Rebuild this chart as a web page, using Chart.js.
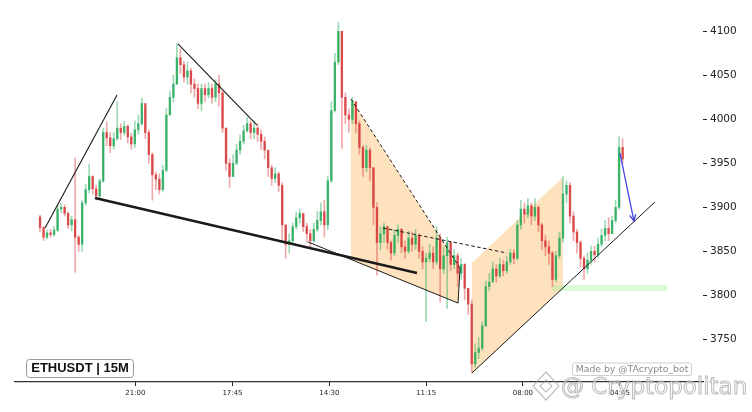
<!DOCTYPE html>
<html><head><meta charset="utf-8">
<script src="https://cdn.jsdelivr.net/npm/chart.js@4/dist/chart.umd.min.js"></script>
<style>html,body{margin:0;padding:0;background:#fff}#wrap{width:752px;height:412px;position:relative}</style>
</head><body><div id="wrap"><canvas id="c" width="752" height="412"></canvas></div>
<script>
// ---- data (candle index in 15-min bars, prices in USDT) ----
const firstOpen = 3889;
const closes = [3877,3866,3871,3869,3874,3898,3900,3893,3880,3886,3866,3858,3905,3920,3935,3921,3913,3930,3985,3979,
3970,3978,3990,3985,3992,3980,3972,3988,3995,4018,3985,3960,3937,3932,3920,3942,4005,4025,4040,4070,
4062,4048,4055,4040,4035,4018,4035,4028,4035,4025,4040,4030,3990,3950,3935,3950,3965,3975,3987,3995,
3985,3990,3983,3975,3965,3945,3933,3938,3925,3880,3858,3862,3878,3888,3893,3878,3870,3862,3875,3885,
3895,3880,3930,4010,4065,4100,4025,4005,4000,4020,3995,3968,3945,3965,3945,3900,3860,3870,3878,3860,
3848,3868,3875,3855,3850,3865,3858,3868,3850,3838,3842,3848,3838,3865,3830,3845,3860,3835,3845,3825,
3835,3808,3790,3722,3735,3740,3765,3810,3815,3830,3822,3835,3828,3838,3848,3842,3880,3898,3892,3902,
3890,3900,3880,3862,3855,3848,3818,3845,3865,3915,3925,3890,3872,3860,3842,3830,3840,3850,3846,3858,
3868,3876,3870,3885,3900,3968,3955];
const highs = [3891,3878,3874,3875,3878,3903,3905,3903,3895,3890,3956,3868,3908,3926,3949,3936,3925,3932,3990,3997,
3985,3985,4020,3995,3998,3994,3984,3998,4005,4024,4015,3988,3962,3940,3938,3948,4012,4032,4050,4086,
4080,4066,4065,4058,4046,4040,4040,4040,4042,4040,4045,4050,4032,3990,3955,3960,3972,3982,3993,4002,
3998,3997,3995,3988,3980,3962,3948,3945,3940,3928,3880,3870,3882,3895,3898,3892,3882,3875,3882,3895,
3905,3908,3935,4020,4075,4110,4100,4030,4012,4025,4020,3998,3970,3970,3968,3945,3905,3878,3882,3878,
3862,3875,3880,3876,3862,3873,3872,3875,3870,3855,3848,3858,3855,3878,3870,3855,3866,3860,3852,3848,
3842,3836,3808,3795,3745,3752,3770,3816,3825,3838,3835,3842,3840,3844,3852,3852,3885,3908,3905,3910,
3905,3910,3902,3882,3868,3862,3850,3850,3872,3935,3930,3928,3895,3875,3862,3845,3848,3856,3856,3865,
3875,3885,3888,3890,3908,3980,3978];
const lows = [3872,3862,3864,3866,3867,3872,3894,3890,3876,3873,3826,3850,3850,3902,3916,3915,3908,3910,3928,3970,
3962,3966,3976,3977,3982,3973,3966,3968,3983,3993,3978,3950,3908,3920,3915,3918,3940,4005,4020,4040,
4052,4042,4040,4030,4025,4012,4010,4020,4024,4018,4020,4015,3985,3942,3922,3935,3948,3960,3972,3985,
3978,3978,3975,3966,3955,3935,3925,3928,3918,3862,3842,3848,3858,3875,3882,3872,3860,3855,3860,3872,
3880,3866,3875,3928,4008,4062,3967,3995,3985,3995,3985,3960,3935,3940,3930,3880,3823,3852,3860,3852,
3840,3845,3860,3848,3842,3848,3850,3852,3842,3830,3770,3838,3830,3835,3792,3825,3785,3828,3830,3810,
3818,3795,3778,3712,3718,3728,3738,3765,3805,3818,3815,3820,3822,3825,3835,3836,3840,3875,3882,3888,
3880,3885,3872,3852,3845,3835,3810,3815,3842,3860,3905,3882,3862,3848,3832,3818,3825,3835,3838,3843,
3855,3862,3862,3870,3882,3898,3950];
const barStep = 3; // each plotted candle spans 3 bars of 15M
const tickLabels = ['21:00','17:45','14:30','11:15','08:00','04:45'];
const tickIndex = [81.5,164.5,247.3,330,412.8,495.6];
const priceTicks = [3750,3800,3850,3900,3950,4000,4050,4100];

// drawn analysis (in index / price units)
const trendLines = [
  {pts:[[4.3,3876.5],[65.8,4027.6]], w:1.1},
  {pts:[[117.9,4085.6],[185.5,3993.5]], w:1.1},
  {pts:[[47,3910.6],[322.2,3825.3]], w:2.6},
  {pts:[[229.1,3860.6],[357.3,3791.2]], w:1},
  {pts:[[265.8,4023.1],[359,3831]], w:1, dash:[3.5,2.5]},
  {pts:[[359,3831],[357.3,3791.2]], w:1},
  {pts:[[293.2,3876.5],[399.1,3848.1]], w:1, dash:[3.5,2.5]},
  {pts:[[369.2,3711.7],[525.6,3906]], w:1}
];
const zoneA = [[265.8,4023.1],[359,3831],[357.3,3791.2],[265.8,3841.2]];
const zoneB = [[369.2,3836.7],[447,3934.4],[447,3808.3],[369.2,3711.7]];
const supportZone = {x0:437.6, x1:535.9, lo:3804.9, hi:3811.7};
const arrowPts = [[495.7,3961.7],[507.7,3884.4]];

const opens = [firstOpen].concat(closes.slice(0,-1));
const xs = closes.map((_,k)=>k*barStep);

const GREEN='rgba(40,170,90,0.85)', RED='rgba(214,50,50,0.82)';
const GREENW='rgba(40,170,90,0.45)', REDW='rgba(214,50,50,0.42)';
const colorOf = (ctx, up, dn) => closes[ctx.dataIndex] >= opens[ctx.dataIndex] ? up : dn;

function px(chart,p){return [chart.scales.x.getPixelForValue(p[0]), chart.scales.y.getPixelForValue(p[1])];}

const drawPlugin = {
  id:'ta',
  beforeDatasetsDraw(chart){
    const c=chart.ctx, a=chart.chartArea;
    c.save(); c.beginPath(); c.rect(a.left,a.top,a.right-a.left,a.bottom-a.top); c.clip();
    [zoneA, zoneB].forEach(z=>{
      c.beginPath();
      z.forEach((p,i)=>{const q=px(chart,p); i?c.lineTo(q[0],q[1]):c.moveTo(q[0],q[1]);});
      c.closePath(); c.fillStyle='rgba(253,190,110,0.45)'; c.fill();
    });
    const s=supportZone, x0=chart.scales.x.getPixelForValue(s.x0), x1=chart.scales.x.getPixelForValue(s.x1);
    const y0=chart.scales.y.getPixelForValue(s.hi), y1=chart.scales.y.getPixelForValue(s.lo);
    c.fillStyle='rgba(150,240,150,0.35)'; c.fillRect(x0,y0,x1-x0,y1-y0);
    c.restore();
  },
  afterDatasetsDraw(chart){
    const c=chart.ctx;
    c.save();
    trendLines.forEach(t=>{
      c.beginPath();
      t.pts.forEach((p,i)=>{const q=px(chart,p); i?c.lineTo(q[0],q[1]):c.moveTo(q[0],q[1]);});
      c.setLineDash(t.dash||[]); c.lineWidth=t.w; c.strokeStyle='#1a1a1a'; c.stroke();
    });
    c.setLineDash([]);
    const a0=px(chart,arrowPts[0]), a1=px(chart,arrowPts[1]);
    c.strokeStyle='rgba(60,60,225,0.95)'; c.lineWidth=1.3;
    c.beginPath(); c.moveTo(a0[0],a0[1]); c.lineTo(a1[0],a1[1]); c.stroke();
    const ang=Math.atan2(a1[1]-a0[1],a1[0]-a0[0]), L=7;
    c.beginPath();
    c.moveTo(a1[0]-L*Math.cos(ang-0.45), a1[1]-L*Math.sin(ang-0.45));
    c.lineTo(a1[0],a1[1]);
    c.lineTo(a1[0]-L*Math.cos(ang+0.45), a1[1]-L*Math.sin(ang+0.45));
    c.stroke();
    c.restore();
  },
  afterDraw(chart){
    const c=chart.ctx;
    c.save();
    // symbol box
    c.beginPath(); c.roundRect(26.5,359.5,107,18,3);
    c.fillStyle='rgba(255,255,255,0.9)'; c.fill(); c.strokeStyle='#9a9a9a'; c.lineWidth=1; c.stroke();
    c.fillStyle='#111'; c.font='bold 13px "Liberation Sans", Arial, sans-serif';
    c.textAlign='center'; c.textBaseline='middle'; c.fillText('ETHUSDT | 15M',80,368.8);
    // credit box
    c.beginPath(); c.roundRect(572.5,363,119,12.5,2.5);
    c.fillStyle='rgba(255,255,255,0.75)'; c.fill(); c.strokeStyle='#cfcfcf'; c.stroke();
    c.fillStyle='#8a8a8a'; c.font='9.3px "DejaVu Sans", sans-serif';
    c.fillText('Made by @TAcrypto_bot',632,369.5);
    // watermark
    c.strokeStyle='rgba(150,150,150,0.6)'; c.lineWidth=1.2;
    c.beginPath(); c.moveTo(546,372); c.lineTo(559,386); c.lineTo(546,400); c.lineTo(533,386); c.closePath(); c.stroke();
    c.beginPath(); c.moveTo(546,380); c.lineTo(552,386); c.lineTo(546,392); c.lineTo(540,386); c.closePath(); c.stroke();
    c.font='23px "DejaVu Sans", sans-serif'; c.textAlign='left'; c.textBaseline='alphabetic';
    c.fillStyle='rgba(255,255,255,0.55)'; c.fillText('@ Cryptopolitan',561,394);
    c.lineWidth=1; c.strokeStyle='rgba(140,140,140,0.6)'; c.strokeText('@ Cryptopolitan',561,394);
    c.restore();
  }
};

new Chart(document.getElementById('c'), {
  type:'bar',
  data:{datasets:[
    {label:'wick', data: xs.map((x,k)=>({x:x, y:[lows[k],highs[k]]})), grouped:false, barThickness:1,
     backgroundColor: ctx=>colorOf(ctx,GREENW,REDW), order:2},
    {label:'body', data: xs.map((x,k)=>({x:x, y:[opens[k],closes[k]]})), grouped:false, barThickness:1.7, minBarLength:1,
     backgroundColor: ctx=>colorOf(ctx,GREEN,RED), order:1}
  ]},
  options:{
    responsive:false, animation:false, devicePixelRatio:1,
    layout:{padding:{left:15, top:10, right:0, bottom:0}},
    plugins:{legend:{display:false}, tooltip:{enabled:false}},
    scales:{
      x:{type:'linear', min:-21.4, max:566.7, offset:false,
         grid:{drawOnChartArea:false, drawTicks:true, tickLength:4, tickColor:'#222', offset:false},
         border:{display:true, color:'#333', width:1.2},
         ticks:{font:{family:'DejaVu Sans', size:7}, color:'#222', padding:3, maxRotation:0, autoSkip:false,
                callback:(v,i)=>tickLabels[i]},
         afterBuildTicks:s=>{s.ticks=tickIndex.map(v=>({value:v}));},
         afterFit:s=>{s.height=30;}},
      y:{position:'right', min:3701.5, max:4124.2,
         grid:{drawOnChartArea:false, drawTicks:true, tickLength:4, tickColor:'#222'},
         border:{display:false},
         ticks:{font:{family:'DejaVu Sans', size:10.5}, color:'#222', padding:3, callback:v=>String(v)},
         afterBuildTicks:s=>{s.ticks=priceTicks.map(v=>({value:v}));},
         afterFit:s=>{s.width=49;}}
    }
  },
  plugins:[drawPlugin]
});
</script></body></html>
